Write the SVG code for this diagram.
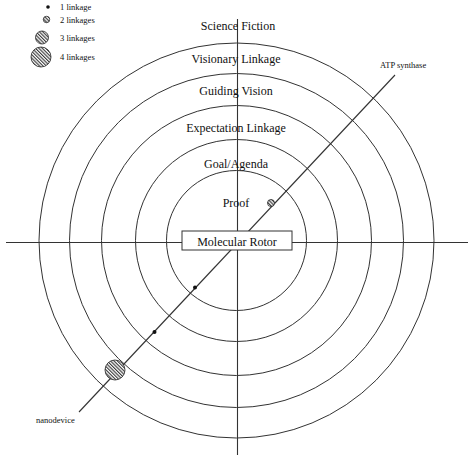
<svg xmlns="http://www.w3.org/2000/svg" width="474" height="474" viewBox="0 0 474 474">
<defs>
<pattern id="hatch" patternUnits="userSpaceOnUse" width="2.4" height="2.4" patternTransform="rotate(-45)">
<rect width="2.4" height="2.4" fill="#fff"/>
<line x1="0.6" y1="0" x2="0.6" y2="2.4" stroke="#222" stroke-width="1"/>
</pattern>
<style>
.ring{fill:none;stroke:#333;stroke-width:1}
.ax{stroke:#333;stroke-width:1.1;fill:none}
.lbl{font-family:"Liberation Serif","Times New Roman",serif;font-size:12px;fill:#111;text-anchor:middle}
.sm{font-family:"Liberation Serif","Times New Roman",serif;font-size:8.5px;fill:#111}
.hat{fill:url(#hatch);stroke:#222;stroke-width:0.8}
.dot{fill:#111}
</style>
</defs>
<rect width="474" height="474" fill="#fff"/>
<g id="rings">
<circle class="ring" cx="236.5" cy="240.5" r="197.5"/>
<circle class="ring" cx="236.5" cy="240.5" r="167"/>
<circle class="ring" cx="236.5" cy="240.5" r="135"/>
<circle class="ring" cx="236.5" cy="240.5" r="101"/>
<circle class="ring" cx="236.5" cy="240.5" r="70"/>
</g>
<g id="connectors">
<line class="ax" x1="6" y1="242.5" x2="468" y2="242.5"/>
<line class="ax" x1="237.5" y1="19" x2="237.5" y2="455"/>
<line class="ax" x1="79" y1="412" x2="395" y2="75"/>
</g>
<g id="ring-labels">
<text class="lbl" x="238" y="30">Science Fiction</text>
<text class="lbl" x="236" y="63">Visionary Linkage</text>
<text class="lbl" x="236" y="95">Guiding Vision</text>
<text class="lbl" x="236" y="132">Expectation Linkage</text>
<text class="lbl" x="236" y="168">Goal/Agenda</text>
<text class="lbl" x="236" y="207">Proof</text>
</g>
<g id="molecular-rotor">
<rect x="182" y="231" width="110" height="19" fill="#fff" stroke="#333" stroke-width="1"/>
<text class="lbl" x="237" y="245.5">Molecular Rotor</text>
</g>
<g id="atp-synthase"><text class="sm" x="380" y="68">ATP synthase</text></g>
<g id="nanodevice"><text class="sm" x="36" y="423">nanodevice</text></g>
<g id="markers">
<circle class="hat" cx="271" cy="203" r="3.5"/>
<circle class="dot" cx="195" cy="287.5" r="2"/>
<circle class="dot" cx="154.5" cy="332" r="2"/>
<circle class="hat" cx="115" cy="370" r="10"/>
</g>
<g id="legend">
<circle class="dot" cx="48" cy="7" r="1.8"/>
<text class="sm" x="60" y="10">1 linkage</text>
<circle class="hat" cx="46.5" cy="19.5" r="3.2"/>
<text class="sm" x="60" y="23">2 linkages</text>
<circle class="hat" cx="42" cy="37.5" r="6.5"/>
<text class="sm" x="60" y="41">3 linkages</text>
<circle class="hat" cx="41" cy="57" r="10"/>
<text class="sm" x="60" y="60">4 linkages</text>
</g>
</svg>
